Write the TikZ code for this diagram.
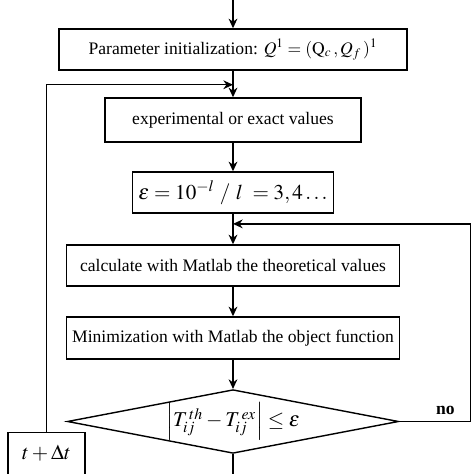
\documentclass[tikz,border=0pt]{standalone}
\usepackage{mathptmx}
\usepackage{fontspec}
\setmainfont{Liberation Serif}
\usepackage{tikz}
\usetikzlibrary{shapes.geometric, arrows, arrows.meta, calc}
\tikzstyle{process} = [rectangle, 
minimum width=6.66cm, 
minimum height=0.82cm, 
text centered, 
draw=black, 
thick, 
font=\fontsize{10}{12}\selectfont]
\tikzstyle{decision} = [diamond, 
aspect=5.2, 
minimum width=6.4cm, 
minimum height=1.22cm, 
inner sep=0pt, 
text centered, 
draw=black, 
thick, 
font=\fontsize{12}{14}\selectfont]
\tikzstyle{arrow} = [thick,->,>={Stealth[length=5.5pt,width=5pt]}]

\begin{document}
\begin{tikzpicture}[node distance=1.45cm]

\useasboundingbox (-4.66cm,0.99cm) rectangle (4.82cm,-8.49cm);
\clip (-4.66cm,0.99cm) rectangle (4.82cm,-8.49cm);

\node (param) [process, minimum width=6.96cm] {Parameter initialization: $Q^1=(\mathrm{Q}_c\,,Q_f\,)^1$};
\node (exp) [process, minimum width=5.12cm, minimum height=0.88cm, below of=param, yshift=0.04cm] {experimental or exact values};
\node (eps) [process, minimum width=3.88cm, below of=exp, font=\fontsize{12}{14}\selectfont] {$\varepsilon=10^{-l}\ /\ l\ =3,4\ldots$};
\node (calc) [process, below of=eps, yshift=-0.01cm] {calculate with Matlab the theoretical values};
\node (minim) [process, minimum height=0.84cm, below of=calc] {Minimization with Matlab the object function};
\node (decision) [decision, below of=minim, yshift=-0.22cm] {$\Bigl|T^{\,th}_{ij}-T^{\,ex}_{ij}\Bigr|\le\varepsilon$};
\node (tstep) [process, minimum width=1.54cm, minimum height=0.84cm, left of=decision, xshift=-2.28cm, yshift=-0.64cm, font=\fontsize{12}{14}\selectfont] {$t+\Delta t$};

\coordinate (in) at ($(param.north)+(0,0.7)$);
\coordinate (out) at ($(decision.south)+(0,-0.7)$);
\coordinate (join1) at ($(param)!0.5!(exp)$);
\coordinate (join2) at ($(eps)!0.43!(calc)$);

\draw [arrow] (in) -- (param);
\draw [arrow] (param) -- (exp);
\draw [arrow] (exp) -- (eps);
\draw [arrow] (eps) -- (calc);
\draw [arrow] (calc) -- (minim);
\draw [arrow] (minim) -- (decision);
\draw [arrow] (decision) -- (out);
\draw [arrow] (tstep) |- (join1);
\draw [arrow] (decision.east) -- node[pos=0.65, above, font=\fontsize{10}{12}\selectfont\bfseries] {no} ++ (1.42cm,0) |- (join2);

\end{tikzpicture}
\end{document}
